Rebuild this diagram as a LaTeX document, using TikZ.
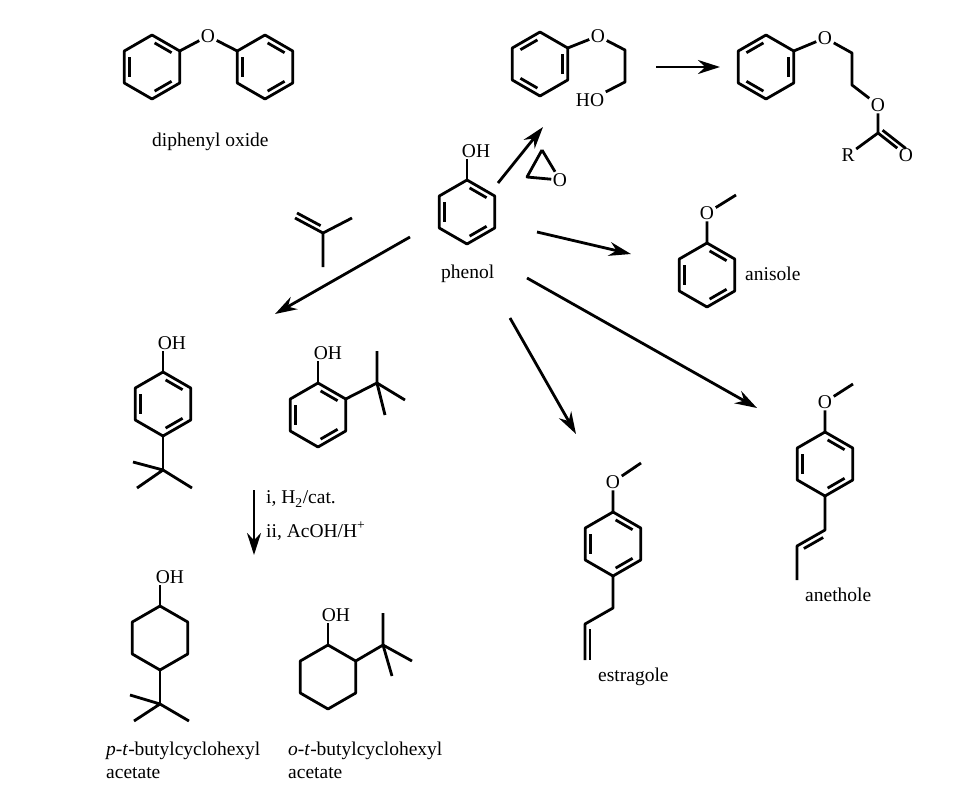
\documentclass[tikz,border=0pt]{standalone}
\usepackage{fontspec}
\setmainfont{Liberation Serif}
\usetikzlibrary{calc,arrows.meta}
\tikzset{
  bond/.style={line width=2.8pt, line join=round},
  rx/.style={line width=2.8pt, -{Stealth[length=22pt,width=14pt]}},
  atom/.style={inner sep=1.5pt, font=\fontsize{19.5}{21}\selectfont},
  lab/.style={anchor=west, inner sep=0pt, font=\fontsize{19.5}{23}\selectfont, align=left}
}
% hexagon with its corners (name1)...(name6), corner 1 on top
\newcommand\chex[2]{%
  \foreach \i in {1,...,6}{
    \pgfmathsetmacro\ang{-150+60*\i}
    \coordinate (#1\i) at ($(#2)+(\ang:32)$);}
  \draw[bond] (#11)--(#12)--(#13)--(#14)--(#15)--(#16)--cycle;}
% benzene: hexagon plus inner lines on the edges listed
\newcommand\benz[3]{%
  \chex{#1}{#2}
  \foreach \e in {#3}{
    \pgfmathtruncatemacro\f{mod(\e,6)+1}
    \draw[bond, shorten <=3pt, shorten >=3pt]
      ($(#2)!.8!(#1\e)$) -- ($(#2)!.8!(#1\f)$);}}

\begin{document}
\begin{tikzpicture}[x=1pt,y=-1pt]
\useasboundingbox (0,0) rectangle (970,796);

% ---------- diphenyl oxide
\coordinate (dpl) at (152,67);
\coordinate (dpr) at (265,67);
\benz{a}{dpl}{1,3,5}
\benz{b}{dpr}{1,3,5}
\node[atom] (dpO) at (208,36) {O};
\draw[bond] (a2) -- (dpO) -- (b6);
\node[lab] (dpname) at (152,142) {diphenyl oxide};

% ---------- phenol
\coordinate (phc) at (467,212);
\benz{p}{phc}{1,3,5}
\node[atom] (phOH) at (476,151) {OH};
\draw[bond] (p1) -- (p1 |- phOH.south);
\node[lab] (phname) at (441,274) {phenol};

% ---------- phenoxyethanol
\coordinate (pec) at (540,64);
\benz{e}{pec}{2,4,6}
\node[atom] (peO) at (598,36) {O};
\coordinate (pe1) at (625,50);
\coordinate (pe2) at (625,82);
\node[atom] (peOH) at (590,100) {HO};
\draw[bond] (e2) -- (peO) -- (pe1) -- (pe2) -- (peOH);

% ---------- phenoxyethyl ester
\coordinate (esc) at (766,67);
\benz{f}{esc}{2,4,6}
\node[atom] (esO) at (825,38) {O};
\coordinate (es1) at (852,53);
\coordinate (es2) at (852,85);
\node[atom] (esO2) at (878,105) {O};
\coordinate (esC) at (878,133);
\node[atom] (esR) at (848,155) {R};
\node[atom] (esO3) at (906,155) {O};
\draw[bond] (f2) -- (esO) -- (es1) -- (es2) -- (esO2) -- (esC) -- (esR);
\draw[bond] (esC) -- (esO3);
\draw[bond, shorten <=2pt, shorten >=4pt] ([shift={(3,-4)}]esC) -- ([shift={(3,-4)}]esO3.center);

% ---------- epoxide
\coordinate (ep1) at (542,150);
\coordinate (ep2) at (527,177);
\node[atom] (epO) at (560,180) {O};
\draw[bond] (ep1) -- (ep2) -- (epO) -- (ep1);

% ---------- isobutylene
\coordinate (ib) at (323,233);
\coordinate (ibm1) at (323,267);
\coordinate (ibm2) at (352,218);
\coordinate (ibch) at (295,218);
\draw[bond] (ibm1) -- (ib) -- (ibm2);
\draw[bond] (ib) -- (ibch);
\draw[bond, shorten <=5pt] ([shift={(2,-5)}]ib) -- ([shift={(2,-5)}]ibch);

% ---------- anisole
\coordinate (anc) at (707,275);
\benz{n}{anc}{1,3,5}
\node[atom] (anO) at (707,213) {O};
\coordinate (anMe) at (736,195);
\draw[bond] (n1) -- (anO) -- (anMe);
\node[lab] (anname) at (745,274) {anisole};

% ---------- p-t-butylphenol
\coordinate (ptc) at (163,404);
\benz{q}{ptc}{1,3,5}
\node[atom] (ptOH) at (172,343) {OH};
\draw[bond] (q1) -- (q1 |- ptOH.south);
\coordinate (ptq) at (163,470);
\coordinate (ptm1) at (133,462);
\coordinate (ptm2) at (137,488);
\coordinate (ptm3) at (192,488);
\draw[bond] (q4) -- (ptq);
\draw[bond] (ptm1) -- (ptq) -- (ptm2);
\draw[bond] (ptq) -- (ptm3);

% ---------- o-t-butylphenol
\coordinate (otc) at (318,415);
\benz{o}{otc}{1,3,5}
\node[atom] (otOH) at (328,353) {OH};
\draw[bond] (o1) -- (o1 |- otOH.south);
\coordinate (otq) at (377,383);
\coordinate (otm1) at (377,351);
\coordinate (otm2) at (405,400);
\coordinate (otm3) at (385,415);
\draw[bond] (o2) -- (otq) -- (otm1);
\draw[bond] (otq) -- (otm2);
\draw[bond] (otq) -- (otm3);

% ---------- p-t-butylcyclohexanol
\coordinate (pcc) at (160,638);
\chex{r}{pcc}
\node[atom] (pcOH) at (170,577) {OH};
\draw[bond] (r1) -- (r1 |- pcOH.south);
\coordinate (pcq) at (160,704);
\coordinate (pcm1) at (130,695);
\coordinate (pcm2) at (134,721);
\coordinate (pcm3) at (189,721);
\draw[bond] (r4) -- (pcq);
\draw[bond] (pcm1) -- (pcq) -- (pcm2);
\draw[bond] (pcq) -- (pcm3);
\node[lab] (pcname) at (106,760) {\textit{p}-\textit{t}-butylcyclohexyl\\acetate};

% ---------- o-t-butylcyclohexanol
\coordinate (occ) at (328,677);
\chex{s}{occ}
\node[atom] (ocOH) at (336,615) {OH};
\draw[bond] (s1) -- (s1 |- ocOH.south);
\coordinate (ocq) at (383,645);
\coordinate (ocm1) at (383,613);
\coordinate (ocm2) at (412,661);
\coordinate (ocm3) at (392,676);
\draw[bond] (s2) -- (ocq) -- (ocm1);
\draw[bond] (ocq) -- (ocm2);
\draw[bond] (ocq) -- (ocm3);
\node[lab] (ocname) at (288,760) {\textit{o}-\textit{t}-butylcyclohexyl\\acetate};

% ---------- estragole
\coordinate (stc) at (613,544);
\benz{t}{stc}{1,3,5}
\node[atom] (stO) at (613,482) {O};
\coordinate (stMe) at (641,463);
\draw[bond] (t1) -- (stO) -- (stMe);
\coordinate (st1) at (613,608);
\coordinate (st2) at (585,624);
\coordinate (st3) at (585,660);
\draw[bond] (t4) -- (st1) -- (st2) -- (st3);
\draw[bond, shorten <=5pt] ([xshift=5pt]st2) -- ([xshift=5pt]st3);
\node[lab] (stname) at (598,677) {estragole};

% ---------- anethole
\coordinate (aec) at (825,464);
\benz{u}{aec}{1,3,5}
\node[atom] (aeO) at (825,402) {O};
\coordinate (aeMe) at (853,384);
\draw[bond] (u1) -- (aeO) -- (aeMe);
\coordinate (ae1) at (825,530);
\coordinate (ae2) at (797,546);
\coordinate (ae3) at (797,580);
\draw[bond] (u4) -- (ae1) -- (ae2) -- (ae3);
\draw[bond, shorten <=5pt, shorten >=5pt] ([shift={(2.5,5)}]ae1) -- ([shift={(2.5,5)}]ae2);
\node[lab] (aename) at (805,595) {anethole};

% ---------- reaction arrows
\coordinate (r1s) at (498,183); \coordinate (r1e) at (543,127);
\coordinate (r2s) at (656,67);  \coordinate (r2e) at (720,67);
\coordinate (r3s) at (410,237); \coordinate (r3e) at (275,314);
\coordinate (r4s) at (537,232); \coordinate (r4e) at (631,254);
\coordinate (r5s) at (527,278); \coordinate (r5e) at (757,408);
\coordinate (r6s) at (510,318); \coordinate (r6e) at (576,434);
\coordinate (r7s) at (254,490); \coordinate (r7e) at (254,555);
\draw[rx] (r1s) -- (r1e);
\draw[rx] (r2s) -- (r2e);
\draw[rx] (r3s) -- (r3e);
\draw[rx] (r4s) -- (r4e);
\draw[rx] (r5s) -- (r5e);
\draw[rx] (r6s) -- (r6e);
\draw[rx] (r7s) -- (r7e);
\node[lab] (cond1) at (266,499) {i, H\textsubscript{2}/cat.};
\node[lab] (cond2) at (266,531) {ii, AcOH/H\textsuperscript{+}};
\end{tikzpicture}
\end{document}
